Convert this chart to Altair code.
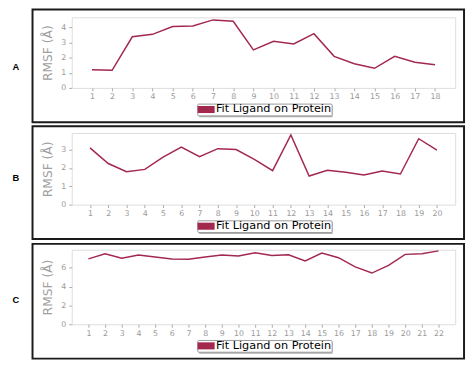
import altair as alt
import pandas as pd

SERIES = "Fit Ligand on Protein"
LINE_COLOR = "#a3284e"

# Panel A
res_a = list(range(1, 19))
rmsf_a = [1.2, 1.16, 3.37, 3.53, 4.04, 4.08, 4.48, 4.39, 2.51, 3.07, 2.9, 3.57,
          2.08, 1.59, 1.29, 2.08, 1.69, 1.53]
yticks_a = [0, 1, 2, 3, 4]

# Panel B
res_b = list(range(1, 21))
rmsf_b = [3.09, 2.24, 1.79, 1.92, 2.59, 3.14, 2.61, 3.05, 3.0, 2.47, 1.85, 3.8,
          1.56, 1.87, 1.76, 1.62, 1.83, 1.67, 3.59, 2.97]
yticks_b = [0, 1, 2, 3]

# Panel C
res_c = list(range(1, 23))
rmsf_c = [6.93, 7.47, 7.0, 7.34, 7.13, 6.93, 6.89, 7.13, 7.34, 7.24, 7.58, 7.3,
          7.37, 6.72, 7.54, 7.06, 6.08, 5.43, 6.25, 7.41, 7.47, 7.78]
yticks_c = [0, 2, 4, 6]

W = 391
GREY = "#9a9a9a"


def panel(res, vals, yticks, ymax, h, letter, letter_y, box_top, box_bottom):
    df = pd.DataFrame({"residue": res, "rmsf": vals, "series": SERIES})
    n = len(res)
    line = alt.Chart(df).mark_line(strokeWidth=1.5).encode(
        x=alt.X("residue:Q",
                scale=alt.Scale(domain=[0, n + 1], nice=False, zero=False),
                axis=alt.Axis(values=res, title=None, grid=False, domain=False,
                              tickColor="#aaaaaa", tickSize=3, labelPadding=2,
                              labelColor=GREY, labelFontSize=8, labelFont="DejaVu Sans",
                              labelFlush=False, labelOverlap=False)),
        y=alt.Y("rmsf:Q",
                scale=alt.Scale(domain=[0, ymax], nice=False, zero=True),
                axis=alt.Axis(values=yticks, title="RMSF (Å)", grid=False, domain=False,
                              tickColor="#aaaaaa", tickSize=3, labelPadding=3,
                              labelColor=GREY, labelFontSize=8, labelFont="DejaVu Sans",
                              titleColor="#a0a0a0", titleFontSize=12.5,
                              titleFont="DejaVu Sans", titleFontWeight="normal",
                              titlePadding=7)),
        color=alt.Color("series:N",
                        scale=alt.Scale(domain=[SERIES], range=[LINE_COLOR]),
                        legend=alt.Legend(orient="none", legendX=128, legendY=h + 16,
                                          title=None, labelFont="DejaVu Sans",
                                          labelFontSize=11.5, labelColor="black",
                                          symbolType="M-1.45,-0.6H1.45V0.6H-1.45Z",
                                          symbolSize=144, symbolStrokeWidth=0,
                                          symbolFillColor=LINE_COLOR,
                                          symbolOffset=3, labelOffset=4, padding=0,
                                          strokeColor="#999999", fillColor="white",
                                          cornerRadius=1)),
    )
    one = alt.Data(values=[{}])
    shadow = alt.Chart(one).mark_rect(color="#b0b0b0").encode(
        x=alt.value(130), x2=alt.value(266),
        y=alt.value(h + 18), y2=alt.value(h + 30),
    )
    box = alt.Chart(one).mark_rect(fillOpacity=0, stroke="#1a1a1a", strokeWidth=2).encode(
        x=alt.value(-40), x2=alt.value(400),
        y=alt.value(box_top), y2=alt.value(box_bottom),
    )
    tag = alt.Chart(one).mark_text(font="Liberation Sans", fontWeight="bold",
                                   fontSize=9.5, color="black").encode(
        x=alt.value(-57), y=alt.value(letter_y), text=alt.value(letter),
    )
    return alt.layer(shadow, line, box, tag).properties(width=W, height=h)


pa = panel(res_a, rmsf_a, yticks_a, 4.65, 72, "A", 51, -8, 107)
pb = panel(res_b, rmsf_b, yticks_b, 3.9, 73, "B", 46, -7, 108)
pc = panel(res_c, rmsf_c, yticks_c, 7.9, 76, "C", 51, -6, 111)

chart = alt.vconcat(pa, pb, pc, spacing=46, bounds="flush").resolve_scale(
    color="independent"
).resolve_legend(color="independent").properties(
    padding={"left": 4, "top": -4, "right": 0, "bottom": 0}
).configure_view(stroke="#bbbbbb", strokeWidth=1.5).configure(background="white")

chart.save("out.html", embed_options={"renderer": "svg", "actions": False})
